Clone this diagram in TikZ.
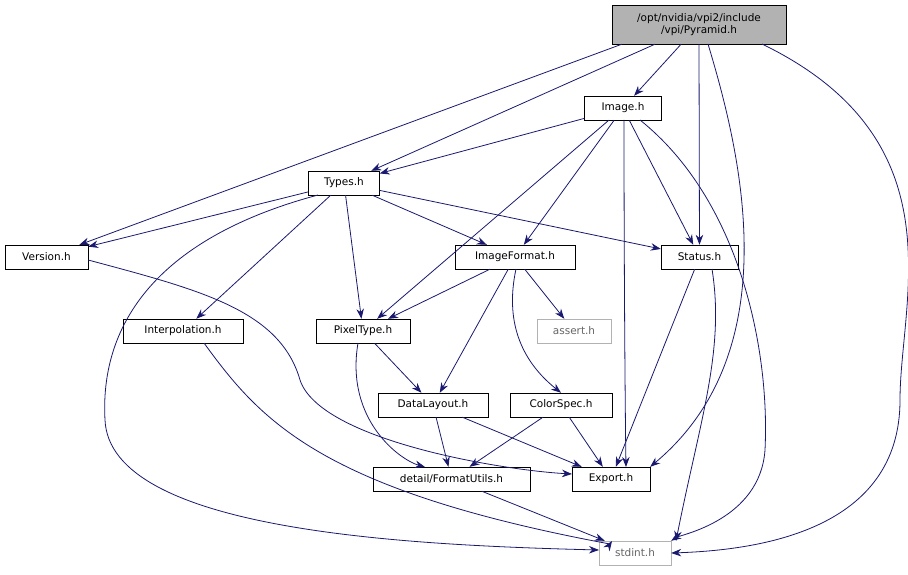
\documentclass[tikz,border=0pt]{standalone}
\usepackage{fontspec}
\setmainfont{DejaVu Sans}
\usetikzlibrary{arrows.meta}
\definecolor{edge}{RGB}{25,25,112}
\begin{document}
\begin{tikzpicture}[x=1pt,y=-1pt,
  box/.style={draw=black,fill=white,inner sep=0pt,minimum height=24pt,font=\fontsize{10.5}{12.5}\selectfont},
  grey/.style={box,draw=black!30},
  e/.style={draw=edge,-{Stealth[length=10pt,width=7.5pt]},line width=0.8pt}]
\useasboundingbox (0,0) rectangle (908,575);
\node[box,fill=black!30,minimum width=174pt,minimum height=39pt,align=center] (pyr) at (699,24.5) {/opt/nvidia/vpi2/include\\/vpi/Pyramid.h};
\node[box,minimum width=77pt] (img) at (623,108) {Image.h};
\node[box,minimum width=71pt] (typ) at (344,183) {Types.h};
\node[box,minimum width=83pt] (ver) at (46.5,257) {Version.h};
\node[box,minimum width=120pt] (fmt) at (515,257) {ImageFormat.h};
\node[box,minimum width=77pt] (sta) at (699.5,257) {Status.h};
\node[box,minimum width=120pt] (itp) at (183,331) {Interpolation.h};
\node[box,minimum width=94pt] (pix) at (363,331) {PixelType.h};
\node[grey,minimum width=74pt,text=black!60] (ass) at (574,331) {assert.h};
\node[box,minimum width=110pt] (dl) at (433,405) {DataLayout.h};
\node[box,minimum width=102pt] (cs) at (561,405) {ColorSpec.h};
\node[box,minimum width=157pt] (fu) at (451.5,479) {detail/FormatUtils.h};
\node[box,minimum width=78pt] (exp) at (611,479) {Export.h};
\node[grey,minimum width=72pt,text=black!60] (std) at (635,553) {stdint.h};
% Pyramid
\draw[e] (pyr) -- (img);
\draw[e] (pyr) -- (typ);
\draw[e] (pyr.south west) ++(10,0) -- (ver);
\draw[e] (pyr.south) -- (sta);
\draw[e] (708,44) .. controls (740,150) and (790,350) .. (exp.north east);
\draw[e] (762,44) .. controls (960,140) and (900,300) .. (900,400) .. controls (900,530) and (760,550) .. (std.east);
% Image
\draw[e] (img) -- (typ);
\draw[e] (img) -- (pix);
\draw[e] (img) -- (fmt);
\draw[e] (624,120) .. controls (624,250) and (625,400) .. (626,467);
\draw[e] (img) -- (sta);
\draw[e] (640,120) .. controls (740,200) and (770,350) .. (765,450) .. controls (760,520) and (680,535) .. (std.north east);
% Types
\draw[e] (typ) -- (ver);
\draw[e] (typ) -- (fmt);
\draw[e] (typ) -- (sta);
\draw[e] (typ) -- (itp);
\draw[e] (typ) -- (pix);
\draw[e] (318,195) .. controls (150,240) and (100,330) .. (105,420) .. controls (110,530) and (400,545) .. (599,550);
% others
\draw[e] (ver.east) ++(0,3) .. controls (200,290) and (280,310) .. (300,380) .. controls (320,440) and (500,470) .. (572,474);
\draw[e] (fmt) -- (pix);
\draw[e] (fmt) -- (dl);
\draw[e] (fmt) -- (ass);
\draw[e] (516,269) .. controls (505,320) and (520,360) .. (cs.north);
\draw[e] (sta) -- (exp);
\draw[e] (712,269) .. controls (725,350) and (700,420) .. (676,541);
\draw[e] (204,343) .. controls (260,420) and (320,490) .. (610,544) -- (612,541);
\draw[e] (pix) -- (dl);
\draw[e] (358,343) .. controls (345,420) and (400,460) .. (425,467);
\draw[e] (dl) -- (fu);
\draw[e] (dl) -- (exp);
\draw[e] (cs) -- (fu);
\draw[e] (cs) -- (exp);
\draw[e] (fu) -- (std);
\end{tikzpicture}
\end{document}
